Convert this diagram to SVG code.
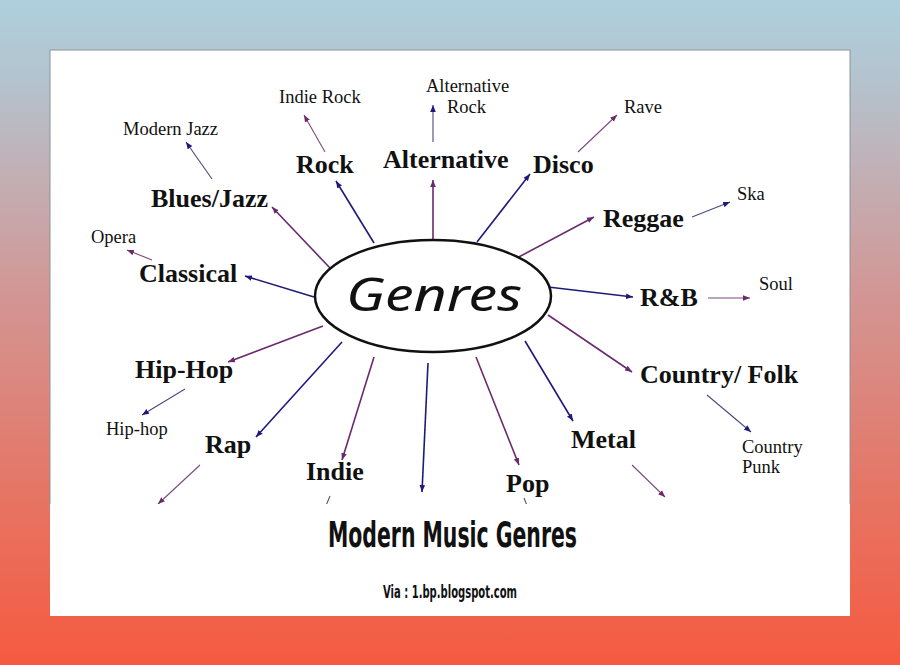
<svg xmlns="http://www.w3.org/2000/svg" width="900" height="665" viewBox="0 0 900 665">
<defs>
<linearGradient id="bg" x1="0" y1="0" x2="0" y2="1">
<stop offset="0" stop-color="#aed0dd"/>
<stop offset="0.12" stop-color="#b4c3ce"/>
<stop offset="0.45" stop-color="#d39593"/>
<stop offset="0.75" stop-color="#e67463"/>
<stop offset="1" stop-color="#f65a40"/>
</linearGradient>
<marker id="an" viewBox="0 0 10 10" refX="10" refY="5" markerWidth="7" markerHeight="7" markerUnits="userSpaceOnUse" orient="auto">
<path d="M0,1 L10,5 L0,9 z" fill="#1f1a7a"/>
</marker>
<marker id="ap" viewBox="0 0 10 10" refX="10" refY="5" markerWidth="7" markerHeight="7" markerUnits="userSpaceOnUse" orient="auto">
<path d="M0,1 L10,5 L0,9 z" fill="#6a2a6e"/>
</marker>
<clipPath id="frame"><rect x="50" y="50" width="800" height="455"/></clipPath>
</defs>
<style>
.big{font-family:"Liberation Serif","Times New Roman",serif;font-weight:bold;font-size:26px;fill:#111}
.small{font-family:"Liberation Serif","Times New Roman",serif;font-size:18.5px;fill:#111}
.n{stroke:#1f1a7a;stroke-width:1.6;fill:none;marker-end:url(#an)}
.p{stroke:#6a2a6e;stroke-width:1.6;fill:none;marker-end:url(#ap)}
.ns{stroke:#4a4a80;stroke-width:1.1;fill:none;marker-end:url(#an)}
.ps{stroke:#7a4a7a;stroke-width:1.1;fill:none;marker-end:url(#ap)}
.cap{font-family:"Liberation Sans Narrow","DejaVu Sans Condensed","DejaVu Sans",sans-serif;font-weight:bold;fill:#111;font-stretch:condensed}
</style>
<rect x="0" y="0" width="900" height="665" fill="url(#bg)"/>
<rect x="50" y="50" width="800" height="455" fill="#ffffff" stroke="#8a9499" stroke-width="1"/>

<g id="connectors" clip-path="url(#frame)">
<line class="p" x1="330" y1="268" x2="272" y2="207"/>
<line class="n" x1="374" y1="243" x2="336" y2="181"/>
<line class="p" x1="433" y1="240" x2="433" y2="180"/>
<line class="n" x1="477" y1="242" x2="530" y2="174"/>
<line class="p" x1="515" y1="259" x2="594" y2="217"/>
<line class="n" x1="548" y1="287" x2="633" y2="297"/>
<line class="p" x1="548" y1="315" x2="632" y2="372"/>
<line class="n" x1="525" y1="341" x2="573" y2="421"/>
<line class="p" x1="476" y1="357" x2="519" y2="465"/>
<line class="n" x1="428" y1="363" x2="422" y2="492"/>
<line class="p" x1="374" y1="357" x2="342" y2="460"/>
<line class="n" x1="342" y1="342" x2="256" y2="437"/>
<line class="p" x1="323" y1="326" x2="228" y2="362"/>
<line class="n" x1="314" y1="297" x2="245" y2="276"/>
<line class="ns" x1="212" y1="179" x2="186" y2="142"/>
<line class="ps" x1="325" y1="152" x2="304" y2="115"/>
<line class="ns" x1="433" y1="142" x2="433" y2="105"/>
<line class="ps" x1="578" y1="152" x2="617" y2="115"/>
<line class="ns" x1="692" y1="217" x2="730" y2="202"/>
<line class="ps" x1="708" y1="298" x2="750" y2="298"/>
<line class="ps" x1="152" y1="260" x2="127" y2="250"/>
<line class="ns" x1="185" y1="389" x2="142" y2="415"/>
<line class="ns" x1="707" y1="395" x2="751" y2="432"/>
<line class="ps" x1="632" y1="465" x2="665" y2="497"/>
<line class="ps" x1="200" y1="465" x2="158" y2="504"/>
<line stroke="#555" stroke-width="1.1" x1="330" y1="496" x2="325" y2="508"/>
<line stroke="#555" stroke-width="1.1" x1="524" y1="498" x2="528" y2="508"/>
</g>

<rect x="50" y="504" width="800" height="112" fill="#ffffff"/>

<g id="genres">
<ellipse cx="433" cy="296" rx="118" ry="56" fill="#ffffff" stroke="#111" stroke-width="2.5"/>
<text x="434" y="311" text-anchor="middle" font-family="'Noto Sans','DejaVu Sans',sans-serif" font-style="italic" font-size="46" textLength="176" lengthAdjust="spacingAndGlyphs" fill="#111">Genres</text>
</g>

<g id="blues-jazz"><text class="big" x="151" y="207">Blues/Jazz</text></g>
<g id="rock"><text class="big" x="296" y="173">Rock</text></g>
<g id="alternative"><text class="big" x="383" y="168">Alternative</text></g>
<g id="disco"><text class="big" x="533" y="173">Disco</text></g>
<g id="reggae"><text class="big" x="603" y="227">Reggae</text></g>
<g id="rnb"><text class="big" x="640" y="306">R&amp;B</text></g>
<g id="country-folk"><text class="big" x="640" y="383">Country/ Folk</text></g>
<g id="metal"><text class="big" x="571" y="448">Metal</text></g>
<g id="pop"><text class="big" x="506" y="492">Pop</text></g>
<g id="indie"><text class="big" x="306" y="480">Indie</text></g>
<g id="rap"><text class="big" x="205" y="453">Rap</text></g>
<g id="hip-hop"><text class="big" x="135" y="378">Hip-Hop</text></g>
<g id="classical"><text class="big" x="139" y="282">Classical</text></g>

<g id="modern-jazz"><text class="small" x="123" y="135">Modern Jazz</text></g>
<g id="indie-rock"><text class="small" x="279" y="103">Indie Rock</text></g>
<g id="alternative-rock"><text class="small" x="426" y="92">Alternative</text><text class="small" x="447" y="113">Rock</text></g>
<g id="rave"><text class="small" x="624" y="113">Rave</text></g>
<g id="ska"><text class="small" x="737" y="200">Ska</text></g>
<g id="soul"><text class="small" x="759" y="290">Soul</text></g>
<g id="opera"><text class="small" x="91" y="243">Opera</text></g>
<g id="hip-hop-sub"><text class="small" x="106" y="435">Hip-hop</text></g>
<g id="country-punk"><text class="small" x="742" y="453">Country</text><text class="small" x="742" y="473">Punk</text></g>

<g id="caption">
<text class="cap" x="452.5" y="547" text-anchor="middle" font-size="36" textLength="249" lengthAdjust="spacingAndGlyphs">Modern Music Genres</text>
<text class="cap" x="450" y="598" text-anchor="middle" font-size="18" textLength="134" lengthAdjust="spacingAndGlyphs">Via : 1.bp.blogspot.com</text>
</g>
</svg>
